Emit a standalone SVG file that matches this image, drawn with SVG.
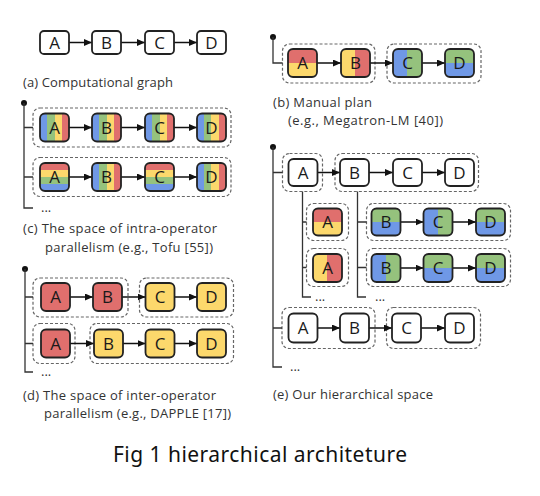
<svg xmlns="http://www.w3.org/2000/svg" width="540" height="496" viewBox="0 0 540 496">
<defs>
<style>
.bx{stroke:#222;stroke-width:1.8}
.w{fill:#fff}
.r{fill:#e06f6d}
.y{fill:#fcd86c}
.dash{fill:none;stroke:#666;stroke-width:1.2;stroke-dasharray:3 2}
.ln{fill:none;stroke:#333;stroke-width:1.3}
.ar{fill:none;stroke:#111;stroke-width:1.5;marker-end:url(#ah)}
.lt{font-family:"Open Sans","DejaVu Sans",sans-serif;font-size:17px;fill:#1a1a1a;text-anchor:middle}
.lb{font-family:"Open Sans","DejaVu Sans",sans-serif;font-size:13px;fill:#333}
.cap{font-family:"Noto Sans","DejaVu Sans",sans-serif;font-size:21px;fill:#111}
</style>
<marker id="ah" markerUnits="userSpaceOnUse" markerWidth="9" markerHeight="8" refX="8" refY="3.5" orient="auto"><path d="M0,0 L8,3.5 L0,7 z" fill="#111"/></marker>
<linearGradient id="v4" x1="0" y1="0" x2="1" y2="0">
<stop offset="0" stop-color="#6f98e6"/><stop offset="0.25" stop-color="#6f98e6"/><stop offset="0.25" stop-color="#95c27d"/><stop offset="0.5" stop-color="#95c27d"/><stop offset="0.5" stop-color="#fcd86c"/><stop offset="0.75" stop-color="#fcd86c"/><stop offset="0.75" stop-color="#e06f6d"/><stop offset="1" stop-color="#e06f6d"/>
</linearGradient>
<linearGradient id="h4" x1="0" y1="0" x2="0" y2="1">
<stop offset="0" stop-color="#e06f6d"/><stop offset="0.25" stop-color="#e06f6d"/><stop offset="0.25" stop-color="#fcd86c"/><stop offset="0.5" stop-color="#fcd86c"/><stop offset="0.5" stop-color="#95c27d"/><stop offset="0.75" stop-color="#95c27d"/><stop offset="0.75" stop-color="#6f98e6"/><stop offset="1" stop-color="#6f98e6"/>
</linearGradient>
<linearGradient id="ry" x1="0" y1="0" x2="0" y2="1"><stop offset="0.5" stop-color="#e06f6d"/><stop offset="0.5" stop-color="#fcd86c"/></linearGradient>
<linearGradient id="yr" x1="0" y1="0" x2="1" y2="0"><stop offset="0.5" stop-color="#fcd86c"/><stop offset="0.5" stop-color="#e06f6d"/></linearGradient>
<linearGradient id="bg" x1="0" y1="0" x2="1" y2="0"><stop offset="0.5" stop-color="#6f98e6"/><stop offset="0.5" stop-color="#95c27d"/></linearGradient>
<linearGradient id="gb" x1="0" y1="0" x2="0" y2="1"><stop offset="0.5" stop-color="#95c27d"/><stop offset="0.5" stop-color="#6f98e6"/></linearGradient>
</defs>
<rect width="540" height="496" fill="#fff"/>

<!-- groups (dashed) -->
<g id="groups">
<rect class="dash" x="282.5" y="44" width="92.5" height="39" rx="7"/>
<rect class="dash" x="387" y="44" width="94" height="39" rx="7"/>
<rect class="dash" x="33" y="108" width="198" height="39" rx="7"/>
<rect class="dash" x="33" y="157.5" width="198" height="39" rx="7"/>
<rect class="dash" x="33" y="278" width="95" height="39" rx="7"/>
<rect class="dash" x="139.5" y="278" width="94" height="39" rx="7"/>
<rect class="dash" x="33" y="323.5" width="42" height="40" rx="7"/>
<rect class="dash" x="90" y="323.5" width="143.5" height="40" rx="7"/>
<rect class="dash" x="282.5" y="153.5" width="40" height="38" rx="7"/>
<rect class="dash" x="335" y="153.5" width="143.5" height="38" rx="7"/>
<rect class="dash" x="306.5" y="203.5" width="42" height="37" rx="7"/>
<rect class="dash" x="306.5" y="248.5" width="42" height="38" rx="7"/>
<rect class="dash" x="366.5" y="203.5" width="144" height="37" rx="7"/>
<rect class="dash" x="366.5" y="248.5" width="144" height="38" rx="7"/>
<rect class="dash" x="282" y="307.5" width="93" height="41" rx="7"/>
<rect class="dash" x="386.5" y="307.5" width="94" height="41" rx="7"/>
</g>

<g id="connectors">
<!-- tree lines -->
<circle cx="273" cy="37" r="3" fill="#111"/>
<path class="ln" d="M273,37 V63 H282.5"/>
<circle cx="24" cy="103" r="3" fill="#111"/>
<path class="ln" d="M24,103 V208 H33 M24,127.5 H33 M24,177 H33"/>
<circle cx="25" cy="269" r="3" fill="#111"/>
<path class="ln" d="M25,269 V372 H33 M25,297 H33 M25,343.5 H33"/>
<circle cx="273" cy="147" r="3" fill="#111"/>
<path class="ln" d="M273,147 V367 H282 M273,172.5 H282.5 M273,328 H282"/>
<path class="ln" d="M302.5,191.5 V297 H311 M302.5,222 H306.5 M302.5,267.5 H306.5"/>
<path class="ln" d="M357.5,191.5 V297 H366 M357.5,222 H366.5 M357.5,267.5 H366.5"/>
<!-- arrows (a) -->
<line class="ar" x1="69" y1="42.5" x2="92" y2="42.5"/>
<line class="ar" x1="121" y1="42.5" x2="145" y2="42.5"/>
<line class="ar" x1="174" y1="42.5" x2="197" y2="42.5"/>
<!-- (b) -->
<line class="ar" x1="317" y1="63" x2="341" y2="63"/>
<line class="ar" x1="370" y1="63" x2="393" y2="63"/>
<line class="ar" x1="422" y1="63" x2="445" y2="63"/>
<!-- (c) -->
<line class="ar" x1="69" y1="127.5" x2="92" y2="127.5"/>
<line class="ar" x1="121" y1="127.5" x2="145" y2="127.5"/>
<line class="ar" x1="174" y1="127.5" x2="197" y2="127.5"/>
<line class="ar" x1="69" y1="177" x2="92" y2="177"/>
<line class="ar" x1="121" y1="177" x2="145" y2="177"/>
<line class="ar" x1="174" y1="177" x2="197" y2="177"/>
<!-- (d) -->
<line class="ar" x1="70" y1="297" x2="93" y2="297"/>
<line class="ar" x1="122" y1="297" x2="145.5" y2="297"/>
<line class="ar" x1="174.5" y1="297" x2="197" y2="297"/>
<line class="ar" x1="70" y1="343.5" x2="94" y2="343.5"/>
<line class="ar" x1="123" y1="343.5" x2="145.5" y2="343.5"/>
<line class="ar" x1="174.5" y1="343.5" x2="197" y2="343.5"/>
<!-- (e) -->
<line class="ar" x1="317.5" y1="172.5" x2="340" y2="172.5"/>
<line class="ar" x1="369" y1="172.5" x2="393" y2="172.5"/>
<line class="ar" x1="422" y1="172.5" x2="445" y2="172.5"/>
<line class="ar" x1="400.5" y1="222" x2="423.5" y2="222"/>
<line class="ar" x1="452.5" y1="222" x2="476" y2="222"/>
<line class="ar" x1="400.5" y1="268" x2="423.5" y2="268"/>
<line class="ar" x1="452.5" y1="268" x2="476" y2="268"/>
<line class="ar" x1="317.5" y1="328" x2="340" y2="328"/>
<line class="ar" x1="369" y1="328" x2="392" y2="328"/>
<line class="ar" x1="421" y1="328" x2="445" y2="328"/>
</g>

<!-- (a) -->
<g id="a-A"><rect class="bx w" x="40" y="31" width="29" height="23" rx="4"/><text class="lt" x="54.5" y="48.5">A</text></g>
<g id="a-B"><rect class="bx w" x="92" y="31" width="29" height="23" rx="4"/><text class="lt" x="106.5" y="48.5">B</text></g>
<g id="a-C"><rect class="bx w" x="145" y="31" width="29" height="23" rx="4"/><text class="lt" x="159.5" y="48.5">C</text></g>
<g id="a-D"><rect class="bx w" x="197" y="31" width="29" height="23" rx="4"/><text class="lt" x="211.5" y="48.5">D</text></g>

<!-- (b) -->
<g id="b-A"><rect class="bx" fill="url(#ry)" x="288" y="49" width="29" height="28" rx="5"/><text class="lt" x="302.5" y="69">A</text></g>
<g id="b-B"><rect class="bx" fill="url(#yr)" x="341" y="49" width="29" height="28" rx="5"/><text class="lt" x="355.5" y="69">B</text></g>
<g id="b-C"><rect class="bx" fill="url(#bg)" x="393" y="49" width="29" height="28" rx="5"/><text class="lt" x="407.5" y="69">C</text></g>
<g id="b-D"><rect class="bx" fill="url(#gb)" x="445" y="49" width="29" height="28" rx="5"/><text class="lt" x="459.5" y="69">D</text></g>

<!-- (c) row 1 -->
<g id="c1-A"><rect class="bx" fill="url(#v4)" x="40" y="113.5" width="29" height="28" rx="5"/><text class="lt" x="54.5" y="133.5">A</text></g>
<g id="c1-B"><rect class="bx" fill="url(#v4)" x="92" y="113.5" width="29" height="28" rx="5"/><text class="lt" x="106.5" y="133.5">B</text></g>
<g id="c1-C"><rect class="bx" fill="url(#v4)" x="145" y="113.5" width="29" height="28" rx="5"/><text class="lt" x="159.5" y="133.5">C</text></g>
<g id="c1-D"><rect class="bx" fill="url(#v4)" x="197" y="113.5" width="29" height="28" rx="5"/><text class="lt" x="211.5" y="133.5">D</text></g>
<!-- (c) row 2 -->
<g id="c2-A"><rect class="bx" fill="url(#h4)" x="40" y="163" width="29" height="28" rx="5"/><text class="lt" x="54.5" y="183">A</text></g>
<g id="c2-B"><rect class="bx" fill="url(#v4)" x="92" y="163" width="29" height="28" rx="5"/><text class="lt" x="106.5" y="183">B</text></g>
<g id="c2-C"><rect class="bx" fill="url(#h4)" x="145" y="163" width="29" height="28" rx="5"/><text class="lt" x="159.5" y="183">C</text></g>
<g id="c2-D"><rect class="bx" fill="url(#v4)" x="197" y="163" width="29" height="28" rx="5"/><text class="lt" x="211.5" y="183">D</text></g>

<!-- (d) row 1 -->
<g id="d1-A"><rect class="bx r" x="41" y="283" width="29" height="28" rx="5"/><text class="lt" x="55.5" y="303">A</text></g>
<g id="d1-B"><rect class="bx r" x="93" y="283" width="29" height="28" rx="5"/><text class="lt" x="107.5" y="303">B</text></g>
<g id="d1-C"><rect class="bx y" x="145.5" y="283" width="29" height="28" rx="5"/><text class="lt" x="160" y="303">C</text></g>
<g id="d1-D"><rect class="bx y" x="197" y="283" width="29" height="28" rx="5"/><text class="lt" x="211.5" y="303">D</text></g>
<!-- (d) row 2 -->
<g id="d2-A"><rect class="bx r" x="41" y="329.5" width="29" height="28" rx="5"/><text class="lt" x="55.5" y="349.5">A</text></g>
<g id="d2-B"><rect class="bx y" x="94" y="329.5" width="29" height="28" rx="5"/><text class="lt" x="108.5" y="349.5">B</text></g>
<g id="d2-C"><rect class="bx y" x="145.5" y="329.5" width="29" height="28" rx="5"/><text class="lt" x="160" y="349.5">C</text></g>
<g id="d2-D"><rect class="bx y" x="197" y="329.5" width="29" height="28" rx="5"/><text class="lt" x="211.5" y="349.5">D</text></g>

<!-- (e) top -->
<g id="e-A"><rect class="bx w" x="288.5" y="159" width="29" height="27" rx="5"/><text class="lt" x="303" y="178.5">A</text></g>
<g id="e-B"><rect class="bx w" x="340" y="159" width="29" height="27" rx="5"/><text class="lt" x="354.5" y="178.5">B</text></g>
<g id="e-C"><rect class="bx w" x="393" y="159" width="29" height="27" rx="5"/><text class="lt" x="407.5" y="178.5">C</text></g>
<g id="e-D"><rect class="bx w" x="445" y="159" width="29" height="27" rx="5"/><text class="lt" x="459.5" y="178.5">D</text></g>
<!-- (e) A sub -->
<g id="eA1"><rect class="bx" fill="url(#ry)" x="313" y="208.5" width="29" height="27" rx="5"/><text class="lt" x="327.5" y="228">A</text></g>
<g id="eA2"><rect class="bx" fill="url(#yr)" x="313" y="254" width="29" height="28" rx="5"/><text class="lt" x="327.5" y="274">A</text></g>
<!-- (e) BCD sub 1 -->
<g id="eB1"><rect class="bx" fill="url(#gb)" x="371.5" y="208.5" width="29" height="27" rx="5"/><text class="lt" x="386" y="228">B</text></g>
<g id="eC1"><rect class="bx" fill="url(#bg)" x="423.5" y="208.5" width="29" height="27" rx="5"/><text class="lt" x="438" y="228">C</text></g>
<g id="eD1"><rect class="bx" fill="url(#gb)" x="476" y="208.5" width="29" height="27" rx="5"/><text class="lt" x="490.5" y="228">D</text></g>
<!-- (e) BCD sub 2 -->
<g id="eB2"><rect class="bx" fill="url(#bg)" x="371.5" y="254" width="29" height="28" rx="5"/><text class="lt" x="386" y="274">B</text></g>
<g id="eC2"><rect class="bx" fill="url(#gb)" x="423.5" y="254" width="29" height="28" rx="5"/><text class="lt" x="438" y="274">C</text></g>
<g id="eD2"><rect class="bx" fill="url(#gb)" x="476" y="254" width="29" height="28" rx="5"/><text class="lt" x="490.5" y="274">D</text></g>
<!-- (e) bottom -->
<g id="e3-A"><rect class="bx w" x="288.5" y="313.5" width="29" height="29" rx="5"/><text class="lt" x="303" y="334">A</text></g>
<g id="e3-B"><rect class="bx w" x="340" y="313.5" width="29" height="29" rx="5"/><text class="lt" x="354.5" y="334">B</text></g>
<g id="e3-C"><rect class="bx w" x="392" y="313.5" width="29" height="29" rx="5"/><text class="lt" x="406.5" y="334">C</text></g>
<g id="e3-D"><rect class="bx w" x="445" y="313.5" width="29" height="29" rx="5"/><text class="lt" x="459.5" y="334">D</text></g>

<!-- ellipses -->
<g id="dots" class="lb">
<text x="41" y="212">...</text>
<text x="41" y="376">...</text>
<text x="290" y="371">...</text>
<text x="315" y="301">...</text>
<text x="375" y="301">...</text>
</g>

<!-- labels -->
<g id="labels" class="lb">
<text x="23" y="87" textLength="150">(a) Computational graph</text>
<text x="273" y="107" textLength="99">(b) Manual plan</text>
<text x="288" y="125" textLength="155">(e.g., Megatron-LM [40])</text>
<text x="23" y="233" textLength="194">(c) The space of intra-operator</text>
<text x="45" y="252" textLength="168">parallelism (e.g., Tofu [55])</text>
<text x="23" y="400" textLength="193">(d) The space of inter-operator</text>
<text x="44" y="418" textLength="187">parallelism (e.g., DAPPLE [17])</text>
<text x="273" y="399" textLength="160">(e) Our hierarchical space</text>
</g>
<g id="caption"><text class="cap" x="113" y="462" textLength="294">Fig 1 hierarchical architeture</text></g>
</svg>
